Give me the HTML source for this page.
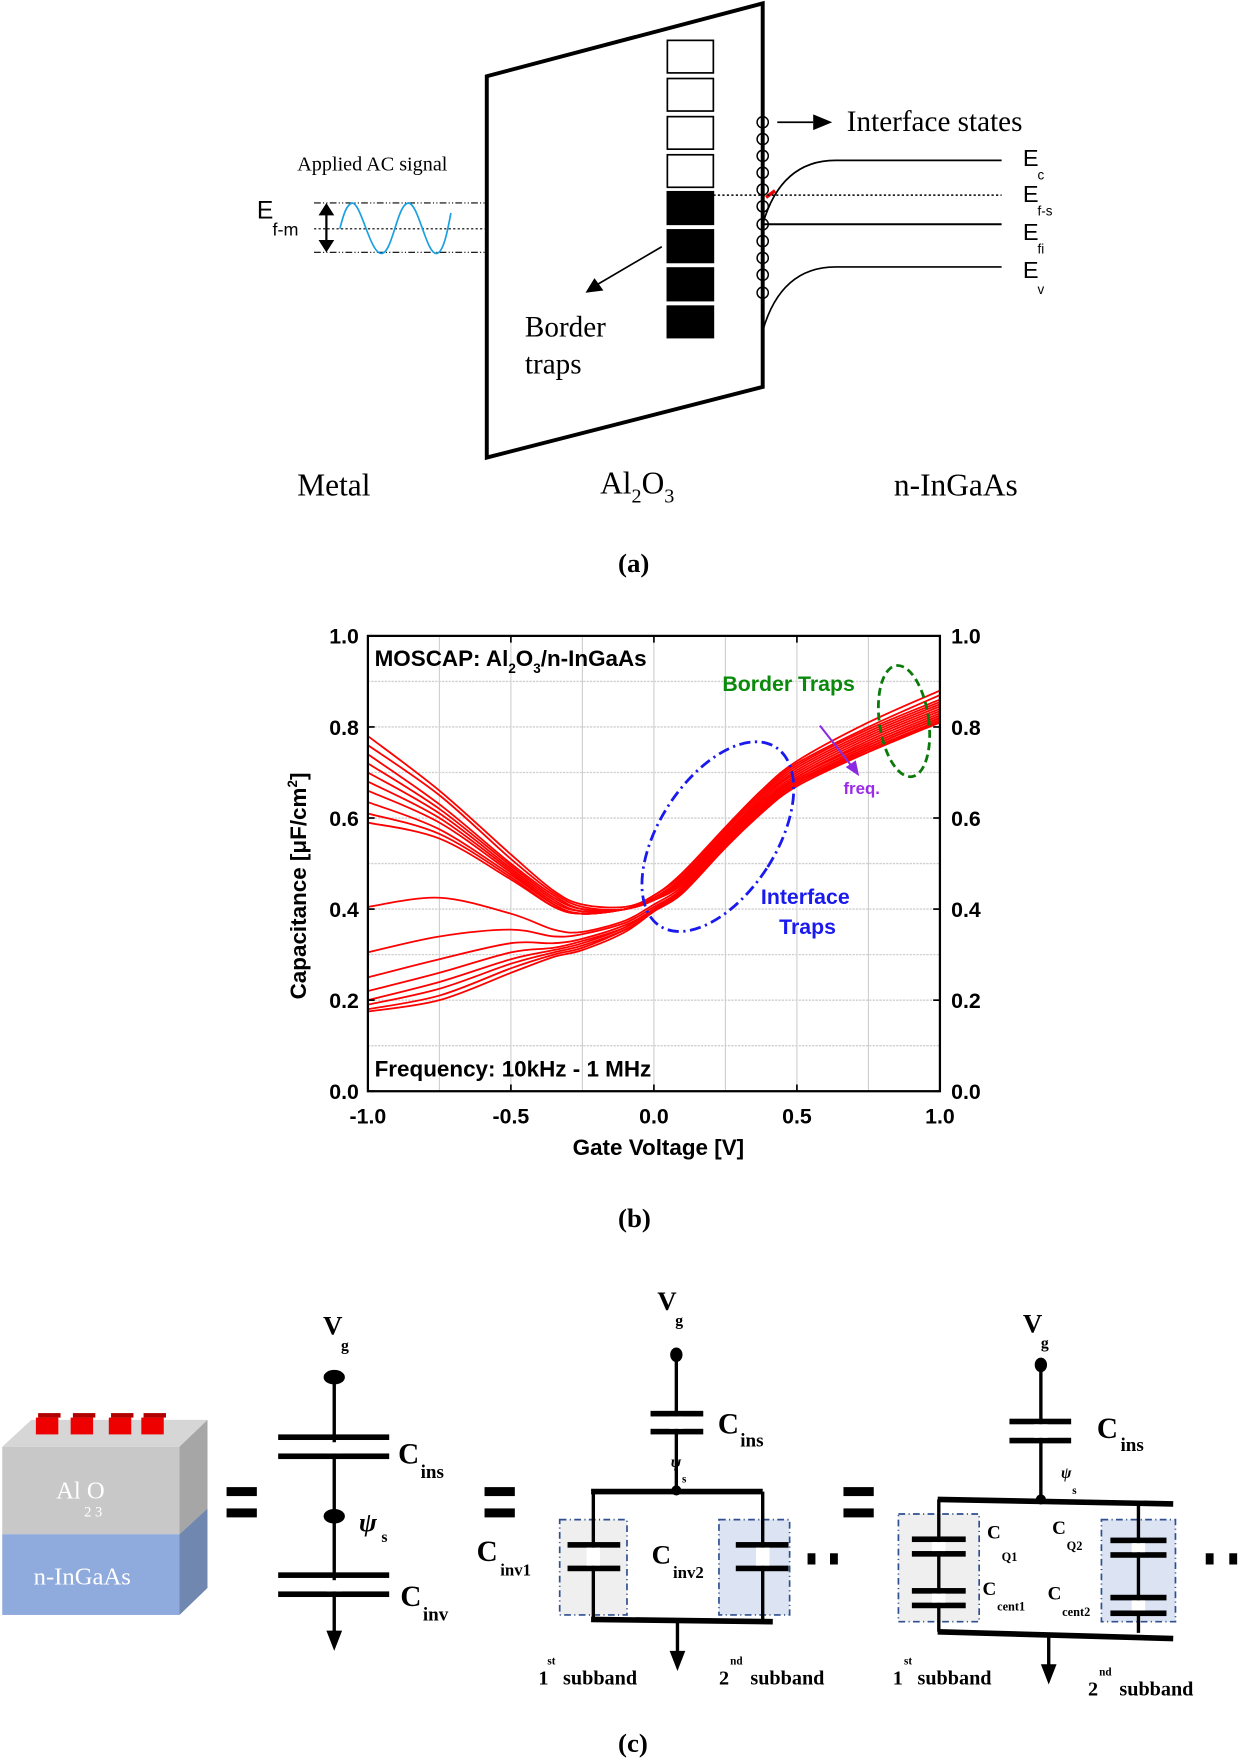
<!DOCTYPE html>
<html><head><meta charset="utf-8"><style>
html,body{margin:0;padding:0;background:#fff}
svg{display:block}
.serif{font-family:"Liberation Serif",serif}
.sans{font-family:"Liberation Sans",sans-serif}
</style></head><body>
<svg id="fig" width="1245" height="1763" viewBox="0 0 1110 1572" preserveAspectRatio="none" xmlns="http://www.w3.org/2000/svg">
<rect width="1110" height="1572" fill="#fff"/>
<!-- ===== Panel (a) ===== -->
<g>
<polygon points="434,68 680,3 680,345 434,408" fill="#fff" stroke="#000" stroke-width="3.5"/>
<g stroke="#000" stroke-width="1.5">
<rect x="595" y="36" width="41" height="29" fill="#fff"/>
<rect x="595" y="70" width="41" height="29" fill="#fff"/>
<rect x="595" y="104" width="41" height="29" fill="#fff"/>
<rect x="595" y="138" width="41" height="29" fill="#fff"/>
<rect x="595" y="171" width="41" height="29" fill="#000"/>
<rect x="595" y="205" width="41" height="29" fill="#000"/>
<rect x="595" y="239" width="41" height="29" fill="#000"/>
<rect x="595" y="273" width="41" height="28" fill="#000"/>
</g>
<g fill="none" stroke="#000" stroke-width="1.3">
<circle cx="680" cy="109" r="5"/><circle cx="680" cy="124" r="5"/><circle cx="680" cy="139" r="5"/><circle cx="680" cy="154" r="5"/><circle cx="680" cy="169" r="5"/><circle cx="680" cy="184" r="5"/><circle cx="680" cy="200" r="5"/><circle cx="680" cy="215" r="5"/><circle cx="680" cy="230" r="5"/><circle cx="680" cy="245" r="5"/><circle cx="680" cy="261" r="5"/>
</g>
<path d="M683,176 l8,-6" stroke="#e00" stroke-width="3"/>
<line x1="693" y1="109" x2="725" y2="109" stroke="#000" stroke-width="1.5"/>
<polygon points="725,102 742,109 725,116" fill="#000"/>
<text class="serif" x="755" y="117" font-size="26">Interface states</text>
<path d="M680,200 C690,165 710,143 745,143 L893,143" fill="none" stroke="#000" stroke-width="1.5"/>
<line x1="636" y1="174" x2="893" y2="174" stroke="#000" stroke-width="1.3" stroke-dasharray="2,2"/>
<line x1="680" y1="200" x2="893" y2="200" stroke="#000" stroke-width="1.8"/>
<path d="M680,295 C690,260 710,238 745,238 L893,238" fill="none" stroke="#000" stroke-width="1.5"/>
<g class="sans" font-size="21">
<text x="912" y="148">E</text><text x="925" y="160" font-size="12">c</text>
<text x="912" y="180">E</text><text x="925" y="192" font-size="12">f-s</text>
<text x="912" y="214">E</text><text x="925" y="226" font-size="12">fi</text>
<text x="912" y="248">E</text><text x="925" y="262" font-size="12">v</text>
</g>
<text class="serif" x="265" y="152" font-size="18">Applied AC signal</text>
<text class="sans" x="229" y="195" font-size="22">E</text><text class="sans" x="243" y="210" font-size="16">f-m</text>
<line x1="280" y1="181" x2="434" y2="181" stroke="#000" stroke-width="1" stroke-dasharray="6,2,1,2,1,2"/>
<line x1="280" y1="225" x2="434" y2="225" stroke="#000" stroke-width="1" stroke-dasharray="6,2,1,2,1,2"/>
<line x1="280" y1="204" x2="434" y2="204" stroke="#000" stroke-width="1" stroke-dasharray="2,2"/>
<line x1="291" y1="190" x2="291" y2="216" stroke="#000" stroke-width="2"/>
<polygon points="284,192 291,181 298,192" fill="#000"/><polygon points="284,214 291,225 298,214" fill="#000"/>
<path d="M303,204 C306,192 309,182 314,181 C322,181 330,226 340,226 C350,226 354,182 364,181 C373,181 380,226 389,226 C396,226 400,200 402,190" fill="none" stroke="#1aa0e0" stroke-width="1.5"/>
<line x1="590" y1="220" x2="532" y2="254" stroke="#000" stroke-width="1.5"/>
<polygon points="522,261 530,248 538,259" fill="#000"/>
<text class="serif" x="468" y="300" font-size="26">Border</text>
<text class="serif" x="468" y="333" font-size="26">traps</text>
<text class="serif" x="265" y="442" font-size="28">Metal</text>
<text class="serif" x="535" y="440" font-size="28">Al<tspan font-size="18" dy="8">2</tspan><tspan dy="-8">O</tspan><tspan font-size="18" dy="8">3</tspan></text>
<text class="serif" x="797" y="442" font-size="28">n-InGaAs</text>
<text class="serif" x="551" y="510" font-size="24" font-weight="bold">(a)</text>
</g>

<!-- ===== Panel (b) chart ===== -->
<g id="chart"></g>
<text class="serif" x="551" y="1094" font-size="24" font-weight="bold">(b)</text>

<!-- ===== Panel (c) ===== -->
<g>
<g>
<polygon points="2,1290 28,1266 185,1266 160,1290" fill="#d6d6d6"/>
<rect x="2" y="1290" width="158" height="78" fill="#c8c8c8"/>
<rect x="2" y="1368" width="158" height="72" fill="#8faadc"/>
<polygon points="160,1290 185,1266 185,1345 160,1368" fill="#a6a6a6"/>
<polygon points="160,1368 185,1345 185,1416 160,1440" fill="#7088b0"/>
<g fill="#ee0000"><rect x="32" y="1264" width="20" height="15"/><rect x="63" y="1264" width="20" height="15"/><rect x="97" y="1264" width="20" height="15"/><rect x="126" y="1264" width="20" height="15"/></g>
<g fill="#b00000"><rect x="34" y="1260" width="20" height="4"/><rect x="65" y="1260" width="20" height="4"/><rect x="99" y="1260" width="20" height="4"/><rect x="128" y="1260" width="20" height="4"/></g>
<text class="serif" x="50" y="1336" font-size="22" fill="#fff">Al O</text>
<text class="serif" x="75" y="1352" font-size="13" fill="#fff">2   3</text>
<text class="serif" x="30" y="1413" font-size="22" fill="#fff">n-InGaAs</text>
</g>
<g fill="#000"><rect x="202" y="1326" width="27" height="8"/><rect x="202" y="1345" width="27" height="8"/>
<rect x="432" y="1326" width="27" height="8"/><rect x="432" y="1345" width="27" height="8"/>
<rect x="752" y="1326" width="27" height="8"/><rect x="752" y="1345" width="27" height="8"/></g>
<g stroke="#000" fill="#000">
<line x1="298" y1="1228" x2="298" y2="1458" stroke-width="3"/>
<ellipse cx="298" cy="1228" rx="9" ry="6"/><ellipse cx="298" cy="1352" rx="9" ry="6"/>
<rect x="248" y="1279" width="99" height="5" stroke="none"/><rect x="248" y="1296" width="99" height="5" stroke="none"/>
<rect x="248" y="1402" width="99" height="5" stroke="none"/><rect x="248" y="1419" width="99" height="5" stroke="none"/>
<rect x="291" y="1286" width="14" height="10" fill="#fff" stroke="none"/><rect x="291" y="1409" width="14" height="10" fill="#fff" stroke="none"/>
<polygon points="291,1454 298,1472 305,1454" stroke="none"/>
</g>
<g class="serif" font-weight="bold">
<text x="288" y="1190" font-size="24">V</text><text x="304" y="1204" font-size="14">g</text>
<text x="355" y="1305" font-size="26">C</text><text x="375" y="1318" font-size="17">ins</text>
<text x="320" y="1365" font-size="24" font-style="italic">ψ</text><text x="340" y="1375" font-size="14">s</text>
<text x="357" y="1432" font-size="26">C</text><text x="377" y="1445" font-size="17">inv</text>
</g>
<g>
<rect x="499" y="1355" width="60" height="85" fill="#efefef" stroke="#2f4f8f" stroke-width="1.5" stroke-dasharray="6,3,1,3"/>
<rect x="641" y="1355" width="63" height="85" fill="#dce4f4" stroke="#2f4f8f" stroke-width="1.5" stroke-dasharray="6,3,1,3"/>
<g stroke="#000" fill="#000">
<line x1="603" y1="1208" x2="603" y2="1330" stroke-width="3"/><ellipse cx="603" cy="1208" rx="5" ry="6"/><circle cx="603" cy="1329" r="4"/>
<rect x="580" y="1258" width="47" height="5" stroke="none"/><rect x="580" y="1274" width="47" height="5" stroke="none"/><rect x="597" y="1263" width="12" height="11" fill="#fff" stroke="none"/>
<line x1="527" y1="1330" x2="680" y2="1330" stroke-width="5"/>
<line x1="529" y1="1330" x2="529" y2="1445" stroke-width="3"/><line x1="680" y1="1330" x2="680" y2="1445" stroke-width="3"/>
<rect x="506" y="1375" width="47" height="5" stroke="none"/><rect x="506" y="1396" width="47" height="5" stroke="none"/><rect x="523" y="1380" width="12" height="16" fill="#fff" stroke="none"/>
<rect x="656" y="1375" width="47" height="5" stroke="none"/><rect x="656" y="1396" width="47" height="5" stroke="none"/><rect x="674" y="1380" width="12" height="16" fill="#fff" stroke="none"/>
<line x1="527" y1="1444" x2="689" y2="1446" stroke-width="5"/>
<line x1="604" y1="1446" x2="604" y2="1475" stroke-width="3"/><polygon points="597,1472 604,1490 611,1472" stroke="none"/>
<rect x="720" y="1385" width="7" height="10" stroke="none"/><rect x="740" y="1385" width="7" height="10" stroke="none"/>
</g>
<g class="serif" font-weight="bold">
<text x="586" y="1168" font-size="24">V</text><text x="602" y="1182" font-size="14">g</text>
<text x="640" y="1278" font-size="26">C</text><text x="660" y="1290" font-size="17">ins</text>
<text x="598" y="1308" font-size="14" font-style="italic">ψ</text><text x="608" y="1322" font-size="10">s</text>
<text x="425" y="1392" font-size="26">C</text><text x="446" y="1405" font-size="15">inv1</text>
<text x="581" y="1394" font-size="24">C</text><text x="600" y="1407" font-size="15">inv2</text>
<text x="480" y="1502" font-size="18">1</text><text x="488" y="1484" font-size="10">st</text><text x="502" y="1502" font-size="18">subband</text>
<text x="641" y="1502" font-size="18">2</text><text x="651" y="1484" font-size="10">nd</text><text x="669" y="1502" font-size="18">subband</text>
</g>
</g>
<g>
<rect x="801" y="1350" width="72" height="96" fill="#efefef" stroke="#2f4f8f" stroke-width="1.5" stroke-dasharray="6,3,1,3"/>
<rect x="982" y="1355" width="66" height="91" fill="#dce4f4" stroke="#2f4f8f" stroke-width="1.5" stroke-dasharray="6,3,1,3"/>
<g stroke="#000" fill="#000">
<line x1="928" y1="1217" x2="928" y2="1338" stroke-width="3"/><ellipse cx="928" cy="1217" rx="5" ry="6"/><circle cx="928" cy="1337" r="4"/>
<rect x="900" y="1265" width="55" height="5" stroke="none"/><rect x="900" y="1282" width="55" height="5" stroke="none"/><rect x="922" y="1270" width="12" height="12" fill="#fff" stroke="none"/>
<line x1="836" y1="1337" x2="1046" y2="1341" stroke-width="5"/>
<line x1="837" y1="1337" x2="837" y2="1455" stroke-width="3"/><line x1="1015" y1="1340" x2="1015" y2="1456" stroke-width="3"/>
<rect x="813" y="1370" width="48" height="5" stroke="none"/><rect x="813" y="1383" width="48" height="5" stroke="none"/><rect x="831" y="1375" width="12" height="8" fill="#fff" stroke="none"/>
<rect x="813" y="1416" width="48" height="5" stroke="none"/><rect x="813" y="1429" width="48" height="5" stroke="none"/><rect x="831" y="1421" width="12" height="8" fill="#fff" stroke="none"/>
<rect x="990" y="1371" width="50" height="5" stroke="none"/><rect x="990" y="1384" width="50" height="5" stroke="none"/><rect x="1009" y="1376" width="12" height="8" fill="#fff" stroke="none"/>
<rect x="990" y="1422" width="50" height="5" stroke="none"/><rect x="990" y="1436" width="50" height="5" stroke="none"/><rect x="1009" y="1427" width="12" height="9" fill="#fff" stroke="none"/>
<line x1="836" y1="1455" x2="1046" y2="1461" stroke-width="5"/>
<line x1="935" y1="1458" x2="935" y2="1488" stroke-width="3"/><polygon points="928,1484 935,1502 942,1484" stroke="none"/>
<rect x="1075" y="1385" width="7" height="10" stroke="none"/><rect x="1096" y="1385" width="7" height="10" stroke="none"/>
</g>
<g class="serif" font-weight="bold">
<text x="912" y="1188" font-size="24">V</text><text x="928" y="1202" font-size="14">g</text>
<text x="978" y="1282" font-size="26">C</text><text x="999" y="1294" font-size="17">ins</text>
<text x="946" y="1318" font-size="14" font-style="italic">ψ</text><text x="956" y="1332" font-size="10">s</text>
<text x="880" y="1372" font-size="17">C</text><text x="893" y="1392" font-size="11">Q1</text>
<text x="938" y="1368" font-size="17">C</text><text x="951" y="1382" font-size="11">Q2</text>
<text x="876" y="1422" font-size="17">C</text><text x="889" y="1436" font-size="11">cent1</text>
<text x="934" y="1426" font-size="17">C</text><text x="947" y="1441" font-size="11">cent2</text>
<text x="796" y="1502" font-size="18">1</text><text x="806" y="1484" font-size="10">st</text><text x="818" y="1502" font-size="18">subband</text>
<text x="970" y="1512" font-size="18">2</text><text x="980" y="1494" font-size="10">nd</text><text x="998" y="1512" font-size="18">subband</text>
</g>
</g>
<text class="serif" x="551" y="1562" font-size="24" font-weight="bold">(c)</text>
</g>
</svg>
<script>
// ---- chart data ----
const voltages = [-1.0,-0.75,-0.5,-0.35,-0.25,-0.1,0.0,0.1,0.25,0.375,0.5,0.75,1.0];
const xTicks = [-1.0,-0.5,0.0,0.5,1.0];
const yTicks = [0.0,0.2,0.4,0.6,0.8,1.0];
const lowFreqSeries = [
 [0.78,0.66,0.52,0.44,0.41,0.405,0.43,0.48,0.58,0.66,0.725,0.81,0.88],
 [0.76,0.65,0.51,0.435,0.405,0.40,0.43,0.475,0.575,0.655,0.72,0.80,0.87],
 [0.74,0.63,0.50,0.43,0.40,0.40,0.425,0.47,0.57,0.65,0.715,0.795,0.86],
 [0.72,0.62,0.495,0.425,0.40,0.40,0.425,0.47,0.565,0.645,0.71,0.79,0.855],
 [0.70,0.61,0.49,0.42,0.395,0.40,0.425,0.465,0.56,0.64,0.705,0.785,0.85],
 [0.68,0.60,0.485,0.415,0.395,0.40,0.42,0.465,0.56,0.64,0.70,0.78,0.845],
 [0.66,0.59,0.48,0.41,0.39,0.40,0.42,0.46,0.555,0.635,0.695,0.775,0.84],
 [0.635,0.575,0.475,0.41,0.39,0.40,0.42,0.46,0.555,0.63,0.69,0.77,0.835],
 [0.61,0.565,0.47,0.405,0.39,0.40,0.42,0.455,0.55,0.63,0.69,0.765,0.83],
 [0.59,0.555,0.465,0.405,0.39,0.40,0.42,0.455,0.55,0.625,0.685,0.76,0.825]
];
const highFreqSeries = [
 [0.405,0.425,0.39,0.355,0.35,0.375,0.41,0.45,0.545,0.625,0.685,0.76,0.825],
 [0.305,0.34,0.355,0.34,0.345,0.37,0.405,0.445,0.545,0.62,0.68,0.755,0.82],
 [0.25,0.29,0.325,0.325,0.335,0.365,0.40,0.445,0.54,0.62,0.68,0.755,0.82],
 [0.22,0.26,0.305,0.315,0.33,0.36,0.40,0.44,0.54,0.615,0.68,0.75,0.815],
 [0.20,0.24,0.29,0.31,0.325,0.36,0.40,0.44,0.54,0.615,0.675,0.75,0.815],
 [0.19,0.225,0.28,0.305,0.32,0.355,0.395,0.44,0.535,0.615,0.675,0.75,0.81],
 [0.18,0.21,0.27,0.30,0.315,0.355,0.395,0.435,0.535,0.61,0.675,0.745,0.81],
 [0.175,0.20,0.26,0.295,0.31,0.35,0.395,0.435,0.535,0.61,0.67,0.745,0.81]
];
// ---- layout ----
const L=328,R=838,T=567,B=973;
function xs(v){return L+(v+1)/2*(R-L);}
function ys(c){return B-c*(B-T);}
const NS='http://www.w3.org/2000/svg';
const g=document.getElementById('chart');
function mk(tag,attrs,parent){const e=document.createElementNS(NS,tag);for(const k in attrs)e.setAttribute(k,attrs[k]);(parent||g).appendChild(e);return e;}
// grid
for(let v=-0.75;v<1;v+=0.25){const l=mk('line',{x1:xs(v),x2:xs(v),y1:T,y2:B,stroke:'#cfcfcf','stroke-width':1});

}
for(let c=0.1;c<1;c+=0.1){const l=mk('line',{x1:L,x2:R,y1:ys(c),y2:ys(c),stroke:'#cfcfcf','stroke-width':1.2,'stroke-dasharray':'2,1'});

}
// curves
function pathFor(vals){
 const p=voltages.map((v,i)=>[xs(v),ys(vals[i])]);
 let d='M'+p[0][0]+','+p[0][1];
 for(let i=0;i<p.length-1;i++){
  const p0=p[Math.max(0,i-1)],p1=p[i],p2=p[i+1],p3=p[Math.min(p.length-1,i+2)];
  const c1=[p1[0]+(p2[0]-p0[0])/6,p1[1]+(p2[1]-p0[1])/6];
  const c2=[p2[0]-(p3[0]-p1[0])/6,p2[1]-(p3[1]-p1[1])/6];
  d+=' C'+c1[0].toFixed(1)+','+c1[1].toFixed(1)+' '+c2[0].toFixed(1)+','+c2[1].toFixed(1)+' '+p2[0].toFixed(1)+','+p2[1].toFixed(1);
 }
 return d;
}
lowFreqSeries.concat(highFreqSeries).forEach(s=>{
 const e=mk('path',{d:pathFor(s),fill:'none',stroke:'#f00','stroke-width':1.6});
 
 
});
// frame
const fr=mk('rect',{x:L,y:T,width:R-L,height:B-T,fill:'none',stroke:'#000','stroke-width':2});


// ticks and labels
xTicks.forEach(v=>{
 mk('line',{x1:xs(v),x2:xs(v),y1:B,y2:B-6,stroke:'#000','stroke-width':1.5});
 mk('line',{x1:xs(v),x2:xs(v),y1:T,y2:T+6,stroke:'#000','stroke-width':1.5});
 const t=mk('text',{x:xs(v),y:B+29,'text-anchor':'middle','font-size':19,'font-weight':'bold','font-family':'Liberation Sans, sans-serif'});
 t.textContent=v.toFixed(1);
 
 
});
yTicks.forEach(c=>{
 mk('line',{x1:L,x2:L+6,y1:ys(c),y2:ys(c),stroke:'#000','stroke-width':1.5});
 mk('line',{x1:R,x2:R-6,y1:ys(c),y2:ys(c),stroke:'#000','stroke-width':1.5});
 const t=mk('text',{x:L-8,y:ys(c)+7,'text-anchor':'end','font-size':19,'font-weight':'bold','font-family':'Liberation Sans, sans-serif'});
 t.textContent=c.toFixed(1);
 
 
 const t2=mk('text',{x:R+10,y:ys(c)+7,'text-anchor':'start','font-size':19,'font-weight':'bold','font-family':'Liberation Sans, sans-serif'});
 t2.textContent=c.toFixed(1);
 
 
});
</script>
<script>
// static annotations appended to chart group
(function(){
const g=document.getElementById('chart');
g.insertAdjacentHTML('beforeend',
'<text x="587" y="1030" text-anchor="middle" font-size="20" font-weight="bold" font-family="Liberation Sans, sans-serif">Gate Voltage [V]</text>'+
'<text transform="translate(273,790) rotate(-90)" text-anchor="middle" font-size="20" font-weight="bold" font-family="Liberation Sans, sans-serif">Capacitance [μF/cm<tspan font-size="12" dy="-8">2</tspan><tspan dy="8">]</tspan></text>'+
'<text x="334" y="594" font-size="20" font-weight="bold" font-family="Liberation Sans, sans-serif">MOSCAP: Al<tspan font-size="12" dy="6">2</tspan><tspan dy="-6">O</tspan><tspan font-size="12" dy="6">3</tspan><tspan dy="-6">/n-InGaAs</tspan></text>'+
'<text x="334" y="960" font-size="20" font-weight="bold" font-family="Liberation Sans, sans-serif">Frequency: 10kHz - 1 MHz</text>'+
'<text x="644" y="616" font-size="19" font-weight="bold" fill="#0a8a0a" font-family="Liberation Sans, sans-serif">Border Traps</text>'+
'<ellipse cx="806" cy="643" rx="22" ry="50" transform="rotate(-8 806 643)" fill="none" stroke="#0a7a0a" stroke-width="2.5" stroke-dasharray="7,4"/>'+
'<ellipse cx="640" cy="746" rx="52" ry="95" transform="rotate(33 640 746)" fill="none" stroke="#1a1aee" stroke-width="2.5" stroke-dasharray="10,4,2,4"/>'+
'<text x="718" y="806" text-anchor="middle" font-size="19" font-weight="bold" fill="#1a1aee" font-family="Liberation Sans, sans-serif">Interface</text>'+
'<text x="720" y="833" text-anchor="middle" font-size="19" font-weight="bold" fill="#1a1aee" font-family="Liberation Sans, sans-serif">Traps</text>'+
'<line x1="731" y1="647" x2="760" y2="684" stroke="#8a2be2" stroke-width="1.8"/><polygon points="754,684 766,692 763,678" fill="#8a2be2"/>'+
'<text x="752" y="708" font-size="15" font-weight="bold" fill="#9a2bea" font-family="Liberation Sans, sans-serif">freq.</text>');
})();
</script>
</body></html>
